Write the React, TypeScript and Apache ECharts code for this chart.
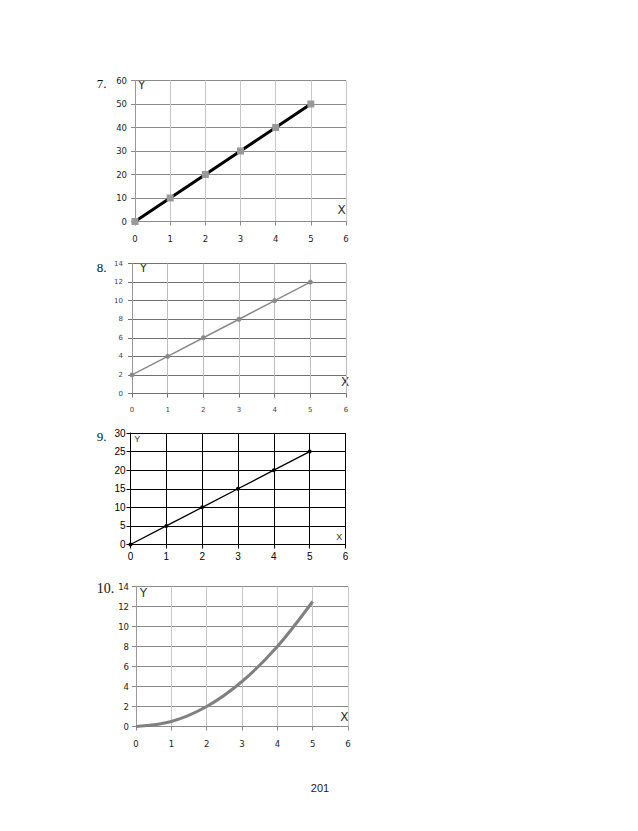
import React, { useEffect, useRef } from "react";
import * as echarts from "echarts";

const xValues = [0, 1, 2, 3, 4, 5];
const y7 = [0, 10, 20, 30, 40, 50];
const y8 = [2, 4, 6, 8, 10, 12];
const y9 = [0, 5, 10, 15, 20, 25];
const y10 = [0, 0.5, 2, 4.5, 8, 12.5];
const yMax = [60, 14, 30, 14];
const yStep = [10, 2, 5, 2];
const xMax = 6;
const problemLabels = ["7.", "8.", "9.", "10."];
const pageNumber = "201";

const grids = [
  { left: 135, top: 80.5, width: 211, height: 141 },
  { left: 132, top: 263.5, width: 214, height: 130 },
  { left: 130.5, top: 433, width: 215, height: 111.5 },
  { left: 136, top: 586.5, width: 212, height: 140 },
];

const pair = (ys: number[]) => xValues.map((x, i) => [x, ys[i]]);

export default function App() {
  const ref = useRef<HTMLDivElement>(null);
  useEffect(() => {
    if (!ref.current) return;
    const chart = echarts.init(ref.current, null, { renderer: "svg" });
    const labelStyles = [
      { fontFamily: "DejaVu Sans", fontSize: 8.5, color: "#222" },
      { fontFamily: "DejaVu Sans", fontSize: 7, color: "#444" },
      { fontFamily: "Liberation Sans", fontSize: 10, color: "#000" },
      { fontFamily: "DejaVu Sans", fontSize: 8.5, color: "#222" },
    ];
    const hColors = ["#8a8a8a", "#707070", "#000", "#8a8a8a"];
    const vColors = ["#c8c8c8", "#bdbdbd", "#000", "#c8c8c8"];
    const yMargins = [8, 9, 5, 7];
    const xMargins = [13, 13, 7, 13];
    const xAxis = grids.map((_, i) => ({
      type: "value",
      gridIndex: i,
      min: 0,
      max: xMax,
      interval: 1,
      axisLine: { show: true, lineStyle: { color: hColors[i], width: 1 } },
      axisTick: { show: true, length: 4, lineStyle: { color: hColors[i] } },
      axisLabel: { ...labelStyles[i], margin: xMargins[i] },
      splitLine: { show: true, lineStyle: { color: vColors[i], width: 1 } },
    }));
    const yAxis = grids.map((_, i) => ({
      type: "value",
      gridIndex: i,
      min: 0,
      max: yMax[i],
      interval: yStep[i],
      axisLine: { show: true, lineStyle: { color: vColors[i] === "#000" ? "#000" : "#999", width: 1 } },
      axisTick: { show: true, length: 4, lineStyle: { color: hColors[i] } },
      axisLabel: { ...labelStyles[i], margin: yMargins[i] },
      splitLine: { show: true, lineStyle: { color: hColors[i], width: 1 } },
    }));
    const series = [
      {
        type: "line",
        xAxisIndex: 0,
        yAxisIndex: 0,
        data: pair(y7),
        symbol: "rect",
        symbolSize: 7,
        itemStyle: { color: "#999" },
        lineStyle: { color: "#000", width: 3 },
        z: 3,
      },
      {
        type: "line",
        xAxisIndex: 1,
        yAxisIndex: 1,
        data: pair(y8),
        symbol: "circle",
        symbolSize: 5,
        itemStyle: { color: "#8a8a8a" },
        lineStyle: { color: "#8a8a8a", width: 1.5 },
      },
      {
        type: "line",
        xAxisIndex: 2,
        yAxisIndex: 2,
        data: pair(y9),
        symbol: "circle",
        symbolSize: 4,
        itemStyle: { color: "#000" },
        lineStyle: { color: "#000", width: 1.3 },
      },
      {
        type: "line",
        xAxisIndex: 3,
        yAxisIndex: 3,
        data: pair(y10),
        smooth: 0.35,
        showSymbol: false,
        symbol: "none",
        lineStyle: { color: "#808080", width: 3 },
      },
    ];
    const axisNames = [
      { y: [141.7, 85], x: [341.7, 210], size: 12 },
      { y: [143.3, 267.7], x: [345, 381.7], size: 12 },
      { y: [137.3, 439.3], x: [339.3, 536.7], size: 9 },
      { y: [143.3, 593.3], x: [344.3, 716.7], size: 12 },
    ];
    const labelPos = [
      [96.7, 83.3, 13],
      [96.7, 267.3, 13],
      [96.7, 436, 13],
      [96.7, 588.3, 14],
    ];
    const graphic: any[] = [];
    axisNames.forEach((a, i) => {
      const fam = i === 2 ? "Liberation Sans" : "DejaVu Sans";
      graphic.push({
        type: "text",
        x: a.y[0],
        y: a.y[1],
        style: { text: "Y", font: `${a.size}px ${fam}`, fill: "#333", align: "center", verticalAlign: "middle" },
      });
      graphic.push({
        type: "text",
        x: a.x[0],
        y: a.x[1],
        style: { text: "X", font: `${a.size}px ${fam}`, fill: "#333", align: "center", verticalAlign: "middle" },
      });
    });
    problemLabels.forEach((t, i) => {
      graphic.push({
        type: "text",
        x: labelPos[i][0],
        y: labelPos[i][1],
        style: { text: t, font: `${labelPos[i][2]}px "Liberation Serif"`, fill: "#111", align: "left", verticalAlign: "middle" },
      });
    });
    graphic.push({
      type: "text",
      x: 320,
      y: 788,
      style: { text: pageNumber, font: '11px "Liberation Sans"', fill: "#222", align: "center", verticalAlign: "middle" },
    });
    chart.setOption({
      animation: false,
      backgroundColor: "#fff",
      grid: grids.map((g) => ({ ...g })),
      xAxis,
      yAxis,
      series,
      graphic,
    });
    return () => chart.dispose();
  }, []);
  return (
    <div
      ref={ref}
      style={{ position: "fixed", left: 0, top: 0, width: 638, height: 831, background: "#fff" }}
    />
  );
}
